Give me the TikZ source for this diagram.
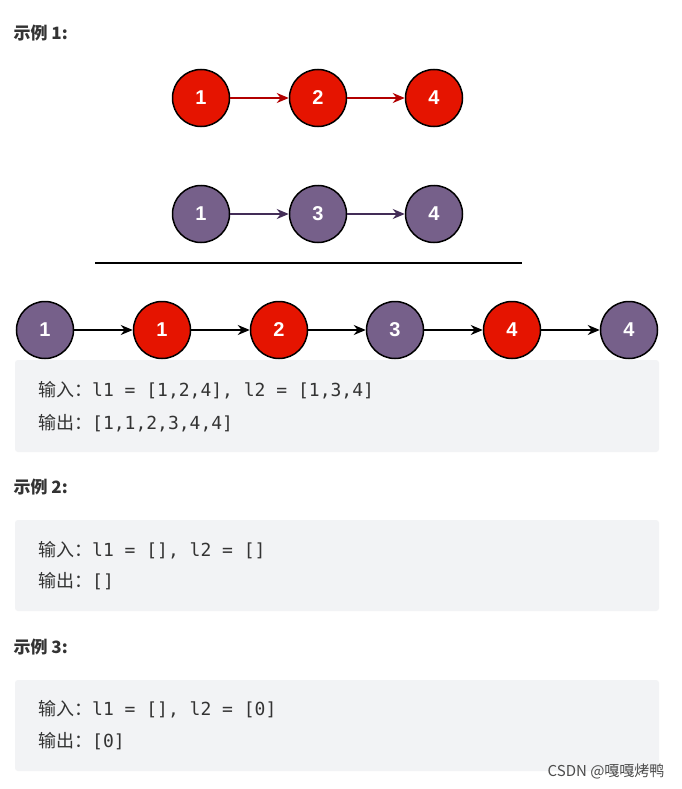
\documentclass[tikz,border=0pt]{standalone}
\usepackage{fontspec}
\setmainfont{Liberation Sans}
\setmonofont{DejaVu Sans Mono}
\newfontfamily\cjk{Noto Sans CJK SC}
\usetikzlibrary{arrows.meta}
\definecolor{nred}{HTML}{E51400}
\definecolor{npur}{HTML}{76608A}
\definecolor{ared}{HTML}{B20000}
\definecolor{apur}{HTML}{432D57}
\definecolor{boxg}{HTML}{F2F3F5}
\definecolor{txt}{HTML}{333333}
\tikzset{
 rn/.style={circle,draw=black,line width=1.5pt,fill=nred,minimum size=57pt,inner sep=0pt,text=white,font=\fontsize{20}{20}\selectfont\bfseries},
 pn/.style={rn,fill=npur},
 arr/.style={-{Stealth[length=12pt,width=10pt]},line width=1.5pt},
 hd/.style={anchor=west,text=txt,font=\cjk\fontsize{17}{17}\selectfont\bfseries},
 cd/.style={anchor=west,text=txt,inner sep=0pt,font=\fontsize{18}{18}\selectfont},
 bx/.style={fill=boxg,rounded corners=3pt}
}
\newcommand{\zh}[1]{{\cjk #1}}
\begin{document}
\begin{tikzpicture}[x=1pt,y=-1pt]
\path[use as bounding box,fill=white] (0,0) rectangle (682,789);
\node[hd] (h1) at (10,33) {示例 1:};
\node[rn] (a1) at (201,98) {1};
\node[rn] (a2) at (318,98) {2};
\node[rn] (a3) at (434,98) {4};
\draw[arr,ared] (a1) -- (a2); \draw[arr,ared] (a2) -- (a3);
\node[pn] (b1) at (201,214) {1};
\node[pn] (b2) at (318,214) {3};
\node[pn] (b3) at (434,214) {4};
\draw[arr,apur] (b1) -- (b2); \draw[arr,apur] (b2) -- (b3);
\coordinate (l1) at (95,263); \coordinate (l2) at (522,263);
\draw[line width=1.5pt] (l1) -- (l2);
\fill[bx] (15,360) rectangle (659,452);
\node[pn] (c1) at (45,330) {1};
\node[rn] (c2) at (162,330) {1};
\node[rn] (c3) at (279,330) {2};
\node[pn] (c4) at (395,330) {3};
\node[rn] (c5) at (512,330) {4};
\node[pn] (c6) at (629,330) {4};
\foreach \i/\j in {c1/c2,c2/c3,c3/c4,c4/c5,c5/c6}{\draw[arr] (\i) -- (\j);}
\node[cd] (t1) at (38,390) {\zh{输入：}\texttt{l1 = [1,2,4], l2 = [1,3,4]}};
\node[cd] (t2) at (38,423) {\zh{输出：}\texttt{[1,1,2,3,4,4]}};
\node[hd] (h2) at (10,487) {示例 2:};
\fill[bx] (15,520) rectangle (659,611);
\node[cd] (t3) at (38,550) {\zh{输入：}\texttt{l1 = [], l2 = []}};
\node[cd] (t4) at (38,581) {\zh{输出：}\texttt{[]}};
\node[hd] (h3) at (10,647) {示例 3:};
\fill[bx] (15,680) rectangle (659,771);
\node[cd] (t5) at (38,709) {\zh{输入：}\texttt{l1 = [], l2 = [0]}};
\node[cd] (t6) at (38,741) {\zh{输出：}\texttt{[0]}};
\node[anchor=east,text=black!70,font=\cjk\fontsize{15}{15}\selectfont] (wm) at (668,771) {CSDN @嘎嘎烤鸭};
\end{tikzpicture}
\end{document}
